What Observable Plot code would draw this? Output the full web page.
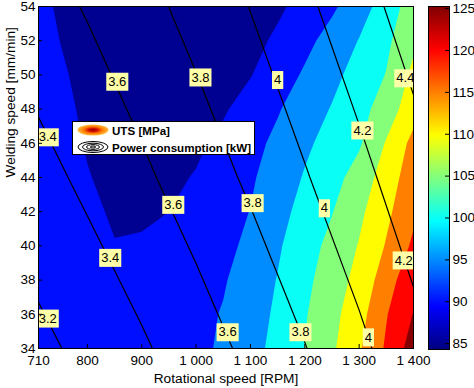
<!DOCTYPE html>
<html>
<head>
<meta charset="utf-8">
<script src="https://cdn.jsdelivr.net/npm/d3@7"></script>
<script src="https://cdn.jsdelivr.net/npm/@observablehq/plot@0.6"></script>
<style>
  body { margin: 0; background: #fff; }
  #wrap { position: relative; width: 474px; height: 388px; overflow: hidden; font-family: "Liberation Sans", Arial, sans-serif; }
  #wrap svg { position: absolute; top: 0; }
  #legend { position: absolute; left: 72px; top: 121px; width: 183px; height: 34px; box-sizing: border-box;
    border: 1px solid #000; background: #fff; font: bold 11.6px "Liberation Sans", Arial, sans-serif; color: #000; }
  #legend .row { position: absolute; left: 4px; height: 14px; display: flex; align-items: center; }
  #legend .row span { margin-left: 3px; white-space: nowrap; }
</style>
</head>
<body>
<div id="wrap">
  <div id="legend">
    <div class="row" style="top:1px">
      <svg width="32" height="14" style="position:static">
        <defs>
          <radialGradient id="g1" cx="50%" cy="50%" r="50%">
            <stop offset="0%" stop-color="#8a0000"/>
            <stop offset="30%" stop-color="#d81000"/>
            <stop offset="60%" stop-color="#ff7a00"/>
            <stop offset="100%" stop-color="#ffc040"/>
          </radialGradient>
        </defs>
        <ellipse cx="16" cy="7" rx="15.5" ry="5.5" fill="url(#g1)"/>
      </svg>
      <span>UTS [MPa]</span>
    </div>
    <div class="row" style="top:18px">
      <svg width="32" height="14" style="position:static">
        <g fill="none" stroke="#000" stroke-width="1">
          <ellipse cx="16" cy="7" rx="15" ry="5.5"/>
          <ellipse cx="16" cy="7" rx="10.5" ry="3.8"/>
          <ellipse cx="16" cy="7" rx="6.5" ry="2.4"/>
          <ellipse cx="16" cy="7" rx="2.8" ry="1"/>
        </g>
      </svg>
      <span>Power consumption [kW]</span>
    </div>
  </div>
</div>
<script>
// ---------------- data ----------------
// UTS grid: columns = rotational speed (RPM), rows = welding speed (mm/min), top row first
const rpmCols = [700, 750, 800, 850, 900, 950, 1000, 1050, 1100, 1150, 1200, 1250, 1300, 1350, 1400];
const wsRows  = [54, 52, 50, 48, 46, 44, 42, 40, 38, 36, 34];
const uts54 = [91.65, 89.4, 87.6, 86.3, 85.5, 85.2, 85.4, 86.2, 87.4, 89.2, 91.6, 94.2, 97.8, 102.3, 107.5];
const uts52 = [92.26, 89.95, 88.1, 86.8, 86.1, 85.9, 86.3, 87.2, 88.6, 90.8, 93.7, 96.8, 100.2, 104.0, 109.0];
const uts50 = [92.73, 90.6, 88.7, 87.4, 86.7, 86.6, 87.1, 88.2, 89.8, 92.7, 95.6, 98.7, 101.9, 105.2, 111.2];
const uts48 = [93.1, 91.1, 89.2, 87.9, 87.4, 87.4, 88.1, 89.5, 91.9, 94.6, 97.5, 100.3, 103.2, 107.4, 113.0];
const uts46 = [93.38, 91.5, 89.7, 88.5, 88.0, 88.2, 89.2, 91.1, 93.5, 96.1, 99.1, 101.8, 104.4, 110.4, 116.5];
const uts44 = [93.65, 91.9, 90.2, 89.0, 88.7, 89.1, 90.3, 92.4, 94.4, 97.2, 100.4, 103.3, 107.0, 112.4, 117.8];
const uts42 = [93.8, 92.3, 90.9, 89.5, 89.5, 90.0, 91.7, 93.4, 95.1, 98.4, 101.6, 104.8, 108.9, 113.9, 119.0];
const uts40 = [93.93, 92.8, 91.5, 90.15, 90.35, 90.9, 92.1, 93.6, 96.2, 99.4, 102.9, 106.4, 110.3, 115.4, 120.9];
const uts38 = [94.1, 93.1, 91.9, 91.0, 91.1, 91.9, 93.1, 94.6, 97.2, 100.2, 103.8, 107.5, 111.6, 117.6, 123.9];
const uts36 = [94.15, 93.4, 92.4, 91.6, 91.8, 92.6, 93.7, 95.3, 97.9, 100.8, 104.6, 108.5, 113.1, 119.7, 125.2];
const uts34 = [94.33, 93.7, 92.9, 92.3, 92.5, 93.2, 94.0, 95.6, 98.4, 101.4, 105.1, 109.2, 114.4, 120.7, 127.4];
const utsRows = [uts54, uts52, uts50, uts48, uts46, uts44, uts42, uts40, uts38, uts36, uts34];

// Power consumption grid [kW], top row first
const pRpmCols = [700, 800, 900, 1000, 1100, 1200, 1300, 1400];
const pWsRows  = [54, 44, 34];
const power54 = [3.506, 3.616, 3.736, 3.866, 4.006, 4.161, 4.323, 4.492];
const power44 = [3.324, 3.442, 3.565, 3.695, 3.832, 3.985, 4.145, 4.314];
const power34 = [3.138, 3.255, 3.374, 3.506, 3.646, 3.793, 3.958, 4.136];
const powerRows = [power54, power44, power34];

const utsLevels   = [85, 90, 95, 100, 105, 110, 115, 120, 125];
const powerLevels = [3.2, 3.4, 3.6, 3.8, 4.0, 4.2, 4.4];

// contour labels (clabel)
const labelText = ["3.2", "3.4", "3.4", "3.6", "3.6", "3.6", "3.8", "3.8", "3.8", "4", "4", "4", "4.2", "4.2", "4.4"];
const labelRpm  = [727, 727, 842, 855, 958, 1058, 1008, 1104, 1192, 1150, 1236, 1317, 1306, 1382, 1385];
const labelWs   = [35.75, 46.35, 39.3, 49.6, 42.4, 34.95, 49.85, 42.5, 34.95, 49.7, 42.2, 34.65, 46.75, 39.15, 49.8];

const xTicks  = [710, 800, 900, 1000, 1100, 1200, 1300, 1400];
const yTicks  = [34, 36, 38, 40, 42, 44, 46, 48, 50, 52, 54];
const cbTicks = [85, 90, 95, 100, 105, 110, 115, 120, 125];
const cbDomain = [84.3, 125.25];
const xTitle = "Rotational speed [RPM]";
const yTitle = "Welding speed [mm/min]";

// ---------------- grids for the library ----------------
const utsValues = utsRows.flat();
const powerValues = powerRows.flat();
// cell bounds: each sample sits at the centre of its grid cell
function bounds(cols, rows) {
  const dx = cols[1] - cols[0], dy = rows[0] - rows[1];
  return {x1: cols[0] - dx / 2, x2: cols[cols.length - 1] + dx / 2,
          y1: rows[0] + dy / 2, y2: rows[rows.length - 1] - dy / 2,
          width: cols.length, height: rows.length};
}
const utsGrid = bounds(rpmCols, wsRows);
const powerGrid = bounds(pRpmCols, pWsRows);
const labels = labelText.map((t, i) => ({t, rpm: labelRpm[i], ws: labelWs[i]}));

// jet colormap
function jet(t) {
  const c = v => Math.max(0, Math.min(1, v));
  const r = c(Math.min(4 * t - 1.5, -4 * t + 4.5));
  const g = c(Math.min(4 * t - 0.5, -4 * t + 3.5));
  const b = c(Math.min(4 * t + 0.5, -4 * t + 2.5));
  return `rgb(${Math.round(r * 255)},${Math.round(g * 255)},${Math.round(b * 255)})`;
}
const colorOpts = {type: "linear", domain: cbDomain, interpolate: jet, clamp: true};
const fmt = d3.formatLocale({decimal: ".", thousands: " ", grouping: [3], currency: ["", ""]}).format(",d");
const font = "'Liberation Sans', Arial, sans-serif";

// label boxes behind text
const charW = {".": 0.278};
function boxed(index, scales, values, dimensions, context, next) {
  const g = next(index, scales, values, dimensions, context);
  const texts = g.querySelectorAll("text");
  texts.forEach((el, j) => {
    const i = index[j];
    const s = labels[i].t;
    const w = [...s].reduce((a, ch) => a + (charW[ch] ?? 0.556), 0) * 13 + 4;
    const rect = document.createElementNS("http://www.w3.org/2000/svg", "rect");
    rect.setAttribute("x", values.x[i] - w / 2);
    rect.setAttribute("y", values.y[i] - 9);
    rect.setAttribute("width", w);
    rect.setAttribute("height", 18);
    rect.setAttribute("fill", "#ffffa8");
    rect.setAttribute("stroke", "none");
    el.parentNode.insertBefore(rect, el);
  });
  return g;
}

const main = Plot.plot({
  width: 474, height: 388,
  marginLeft: 38, marginRight: 61, marginTop: 6, marginBottom: 40,
  style: {fontFamily: font, fontSize: "13.5px", color: "#000", background: "transparent", overflow: "visible"},
  x: {domain: [710, 1400], ticks: xTicks, tickFormat: fmt, tickSize: 0, tickPadding: 7, label: null},
  y: {domain: [34, 54], ticks: yTicks, tickSize: 0, tickPadding: 3, label: null},
  color: colorOpts,
  marks: [
    Plot.contour(utsValues, {...utsGrid, fill: Plot.identity, stroke: "none", thresholds: utsLevels, clip: true}),
    Plot.contour(powerValues, {...powerGrid, value: Plot.identity, fill: "none", stroke: "#000", strokeWidth: 1.2,
      thresholds: powerLevels, clip: true}),
    Plot.text(labels, {x: "rpm", y: "ws", text: "t", fontSize: 13, fill: "#000", clip: true, render: boxed}),
    Plot.tickX(xTicks, {x: d => d, insetTop: 338, stroke: "#000"}),
    Plot.tickY(yTicks, {y: d => d, insetRight: 371, stroke: "#000"}),
    Plot.frame({stroke: "#000", strokeWidth: 1}),
    Plot.text([xTitle], {frameAnchor: "bottom", dy: 30, lineAnchor: "middle", fontSize: 13.7, fill: "#000"}),
    Plot.text([yTitle], {frameAnchor: "left", dx: -28, rotate: -90, lineAnchor: "middle", fontSize: 13.7, fill: "#000"})
  ]
});
main.style.left = "0px";

const cbar = Plot.plot({
  width: 54, height: 388,
  marginLeft: 8, marginRight: 25, marginTop: 6, marginBottom: 39,
  style: {fontFamily: font, fontSize: "13.5px", color: "#000", background: "transparent", overflow: "visible"},
  x: {domain: [0, 1], axis: null},
  y: {domain: cbDomain, ticks: cbTicks, tickSize: 0, tickPadding: 3, axis: "right", label: null},
  color: colorOpts,
  marks: [
    Plot.raster({fill: (x, y) => y, x1: 0, x2: 1, y1: cbDomain[0], y2: cbDomain[1], pixelSize: 1}),
    Plot.tickY(cbTicks, {y: d => d, insetLeft: 17, stroke: "#000"}),
    Plot.frame({stroke: "#000"})
  ]
});
cbar.style.left = "420px";

const wrap = document.getElementById("wrap");
wrap.insertBefore(cbar, wrap.firstChild);
wrap.insertBefore(main, wrap.firstChild);
</script>
</body>
</html>
